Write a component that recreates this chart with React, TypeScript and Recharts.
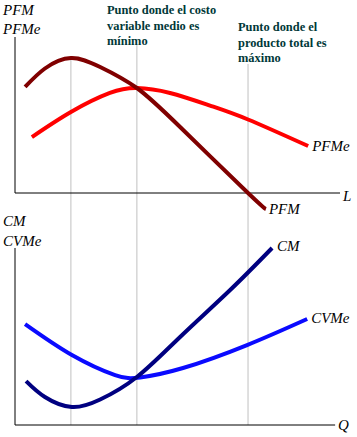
import React from "react";
import { LineChart, Line, XAxis, YAxis, ReferenceLine } from "recharts";

// Top panel: PFM (marginal product) and PFMe (average product) vs L
const pfmX = [3.1, 9.2, 17.2, 26.2, 37.5, 50.8, 71.7, 77.2];
const pfmY = [70.7, 83, 90, 84, 70, 44, 0, -10.7];

const pfmeX = [5.2, 17.2, 29.2, 37.5, 47.7, 60, 71.7, 90.2];
const pfmeY = [37.3, 54, 66.7, 70, 66.7, 58.3, 49, 31.3];

// Bottom panel: CM (marginal cost) and CVMe (average variable cost) vs Q
const cmX = [3.4, 9.2, 17.5, 26.2, 37.5, 50.8, 66.2, 79.1];
const cmY = [29.3, 18.7, 12, 17, 32, 58.7, 90, 118];

const cvmeX = [3.1, 17.5, 30.8, 38.5, 51.7, 71.4, 89.9];
const cvmeY = [67.3, 46.7, 33.3, 31.7, 38, 53.3, 70.7];

// Key points (guide lines): x position and top of each line (cost-axis units)
const markX = [17.2, 37.5, 71.7];
const markTop = [244.7, 253.3, 240.7];

const zip = (xs: number[], ys: number[]) => xs.map((u, i) => ({ u, v: ys[i] }));

const pfmData = zip(pfmX, pfmY);
const pfmeData = zip(pfmeX, pfmeY);
const cmData = zip(cmX, cmY);
const cvmeData = zip(cvmeX, cvmeY);

const W = 357;
const H = 437;

const SERIF = "'Times New Roman', 'Liberation Serif', serif";
const italicStyle: React.CSSProperties = { fontFamily: SERIF, fontStyle: "italic", fontSize: 15 };
const noteStyle: React.CSSProperties = { fontFamily: SERIF, fontWeight: 700, fontSize: 12.4 };

const endLabel = (text: string, n: number, dx: number, dy: number) => (p: any) => {
  if (p.index !== n - 1) return null;
  return (
    <text x={p.x + dx} y={p.y + dy} style={italicStyle} fill="#000" dominantBaseline="central">
      {text}
    </text>
  );
};

export default function App() {
  return (
    <div style={{ position: "fixed", left: 0, top: 0, width: W, height: H, background: "#fff" }}>
      <LineChart width={W} height={H} margin={{ top: 0, right: 17, bottom: 12, left: 15 }}>
        <XAxis dataKey="u" type="number" domain={[0, 100]} allowDataOverflow hide />
        <YAxis yAxisId="p" dataKey="v" type="number" domain={[-154.667, 128.667]} allowDataOverflow hide />
        <YAxis yAxisId="c" dataKey="v" type="number" domain={[0, 283.333]} allowDataOverflow hide />

        {markX.map((m, i) => (
          <ReferenceLine
            key={"m" + i}
            yAxisId="c"
            segment={[{ x: m, y: markTop[i] }, { x: m, y: 0 }]}
            stroke="#c0c0c0"
            strokeWidth={1}
          />
        ))}

        {/* axes */}
        <ReferenceLine yAxisId="p" segment={[{ x: 0, y: 104 }, { x: 0, y: 0 }]} stroke="#000" strokeWidth={1} />
        <ReferenceLine yAxisId="p" segment={[{ x: 0, y: 0 }, { x: 100, y: 0 }]} stroke="#000" strokeWidth={1} />
        <ReferenceLine yAxisId="c" segment={[{ x: 0, y: 118 }, { x: 0, y: 0 }]} stroke="#000" strokeWidth={1} />
        <ReferenceLine yAxisId="c" segment={[{ x: 0, y: 0 }, { x: 98.5, y: 0 }]} stroke="#000" strokeWidth={1} />

        <Line yAxisId="p" data={pfmeData} dataKey="v" type="natural" stroke="#ff0000" strokeWidth={4} dot={false} isAnimationActive={false} label={endLabel("PFMe", pfmeData.length, 4, 0)} />
        <Line yAxisId="p" data={pfmData} dataKey="v" type="natural" stroke="#800000" strokeWidth={4} dot={false} isAnimationActive={false} label={endLabel("PFM", pfmData.length, 3, 0)} />
        <Line yAxisId="c" data={cvmeData} dataKey="v" type="natural" stroke="#0a0aff" strokeWidth={4} dot={false} isAnimationActive={false} label={endLabel("CVMe", cvmeData.length, 4, -1)} />
        <Line yAxisId="c" data={cmData} dataKey="v" type="natural" stroke="#000080" strokeWidth={4} dot={false} isAnimationActive={false} label={endLabel("CM", cmData.length, 5, -2)} />
      </LineChart>

      <svg width={W} height={H} style={{ position: "absolute", left: 0, top: 0, pointerEvents: "none" }}>
        <g style={italicStyle} fill="#000">
          <text x={3} y={15}>PFM</text>
          <text x={3} y={34}>PFMe</text>
          <text x={343} y={201}>L</text>
          <text x={3} y={226}>CM</text>
          <text x={3} y={246}>CVMe</text>
          <text x={338} y={430}>Q</text>
        </g>
        <g style={noteStyle} fill="#003838">
          <text x={107} y={14}>Punto donde el costo</text>
          <text x={107} y={29.5}>variable medio es</text>
          <text x={107} y={45}>mínimo</text>
          <text x={238} y={31}>Punto donde el</text>
          <text x={238} y={46.5}>producto total es</text>
          <text x={238} y={62}>máximo</text>
        </g>
      </svg>
    </div>
  );
}
